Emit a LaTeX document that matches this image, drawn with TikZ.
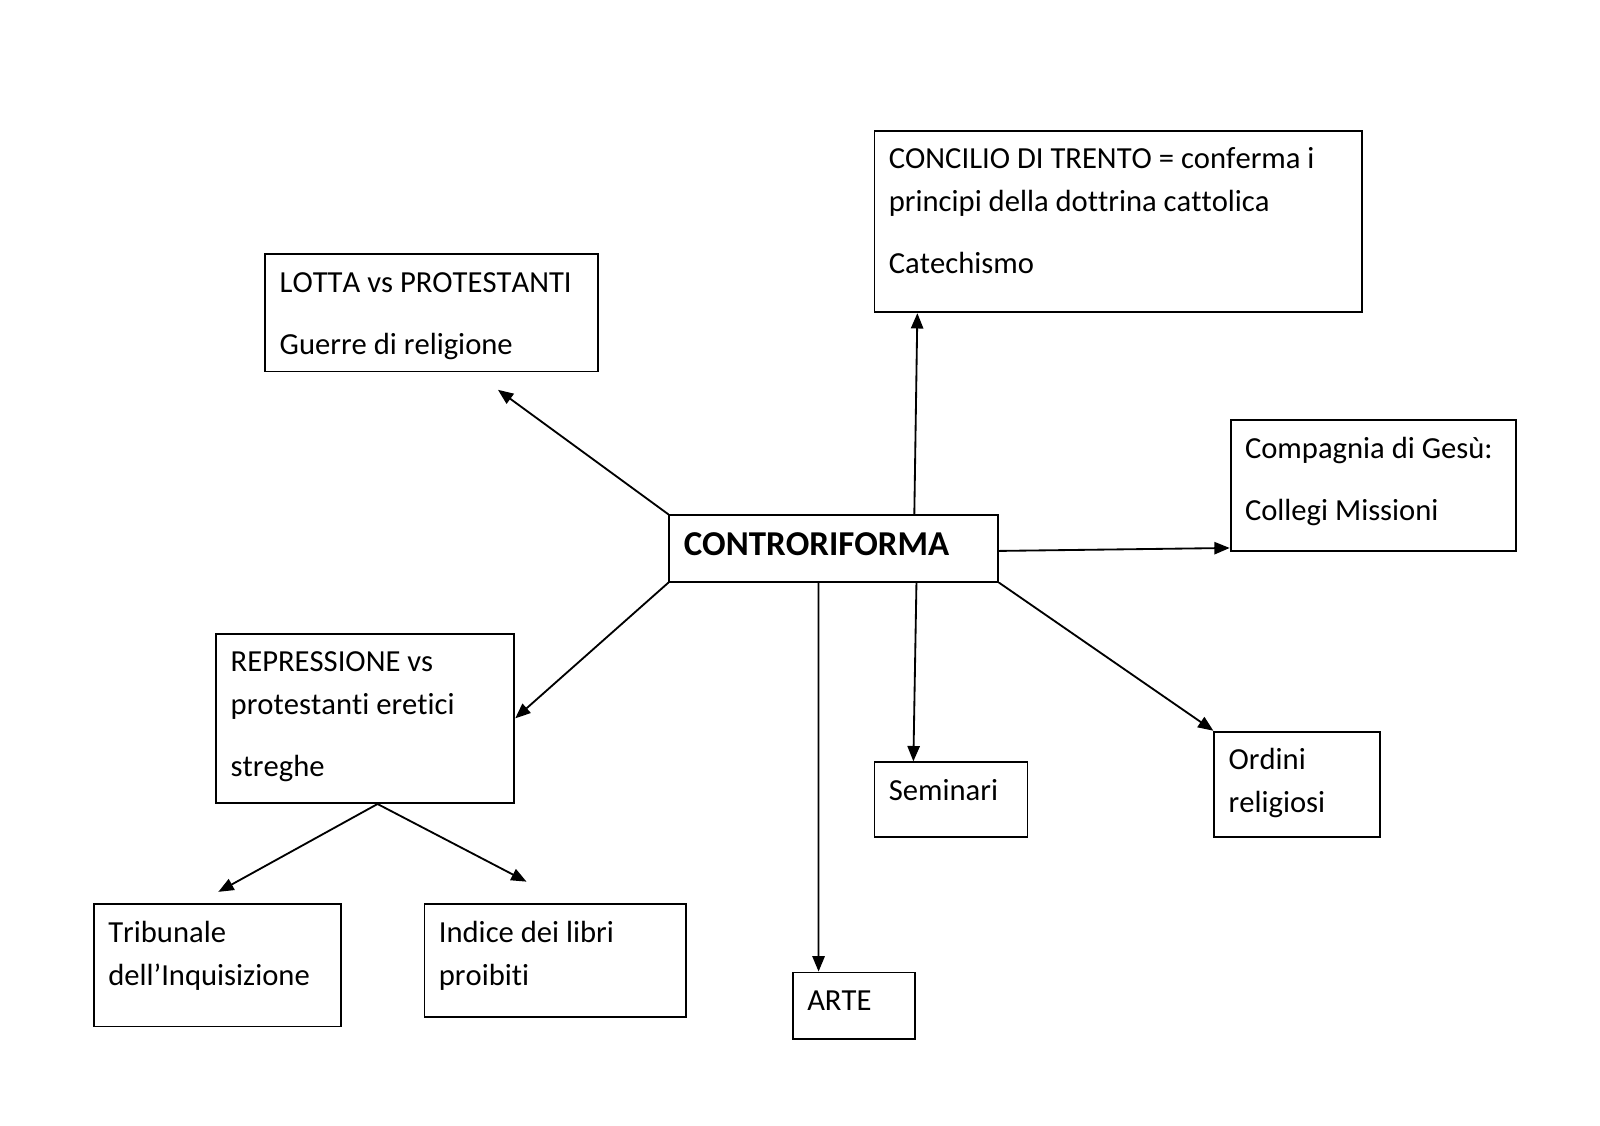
\documentclass[tikz,border=0pt]{standalone}
\usepackage{fontspec}
\setmainfont{Carlito}[Ligatures=NoCommon,Kerning=Off]
\usetikzlibrary{positioning,fit,arrows.meta}

\begin{document}
\begin{tikzpicture}[x=0.3333pt,y=-0.3333pt,line width=0.6pt,
    box/.style={draw,inner sep=0pt},
    txt/.style={inner sep=0pt,align=left,font=\fontsize{10}{14}\selectfont},
    >={Triangle[length=5pt,width=4pt]}]
    \useasboundingbox (0,0) rectangle (1568,1102.5);

    % boxes
    \node[box,fit={(656,505) (978,570)}] (contro) {};
    \node[box,fit={(260,249) (586,364)}] (lotta) {};
    \node[box,fit={(857,128) (1335,306)}] (concilio) {};
    \node[box,fit={(1206,412) (1486,540)}] (compagnia) {};
    \node[box,fit={(212,621) (504,787)}] (repressione) {};
    \node[box,fit={(857,747) (1007,820)}] (seminari) {};
    \node[box,fit={(1190,717) (1352,820)}] (ordini) {};
    \node[box,fit={(92,886) (334,1006)}] (tribunale) {};
    \node[box,fit={(416,886) (672,997)}] (indice) {};
    \node[box,fit={(777,953) (897,1018)}] (arte) {};

    % texts
    \node[txt,font=\bfseries\fontsize{11.4}{14}\selectfont,below right=5.2pt and 4.7pt of contro.north west] (controT) {\rule{0pt}{8pt}CONTRORIFORMA};
    \node[txt,below right=4.5pt and 4.7pt of lotta.north west] (lottaT) {\rule{0pt}{8pt}LOTTA vs PROTESTANTI\\[6.3pt]Guerre di religione};
    \node[txt,below right=4.5pt and 4.7pt of concilio.north west] (concilioT) {\rule{0pt}{8pt}CONCILIO DI TRENTO = conferma i\\principi della dottrina cattolica\\[6.3pt]Catechismo};
    \node[txt,below right=4.5pt and 4.7pt of compagnia.north west] (compagniaT) {\rule{0pt}{8pt}Compagnia di Gesù:\\[6.3pt]Collegi Missioni};
    \node[txt,below right=4.5pt and 4.7pt of repressione.north west] (repressioneT) {\rule{0pt}{8pt}REPRESSIONE vs\\protestanti eretici\\[6.3pt]streghe};
    \node[txt,below right=4.5pt and 4.7pt of seminari.north west] (seminariT) {\rule{0pt}{8pt}Seminari};
    \node[txt,below right=4.5pt and 4.7pt of ordini.north west] (ordiniT) {\rule{0pt}{8pt}Ordini\\religiosi};
    \node[txt,below right=4.5pt and 4.7pt of tribunale.north west] (tribunaleT) {\rule{0pt}{8pt}Tribunale\\dell’Inquisizione};
    \node[txt,below right=4.5pt and 4.7pt of indice.north west] (indiceT) {\rule{0pt}{8pt}Indice dei libri\\proibiti};
    \node[txt,below right=4.5pt and 4.7pt of arte.north west] (arteT) {\rule{0pt}{8pt}ARTE};

    % free ends
    \coordinate (lottaEnd) at (488,382);
    \coordinate (fork) at ([xshift=4pt]repressione.south);
    \coordinate (tribunaleEnd) at (214,874);
    \coordinate (indiceEnd) at (516,864);

    \draw[->] (contro.north west) -- (lottaEnd);
    \draw[->] ([xshift=80.3pt]contro.north west) -- ([xshift=14.3pt]concilio.south west);
    \draw[->] ([yshift=-0.8pt]contro.east) -- ([yshift=1.3pt]compagnia.south west);
    \draw[->] (contro.south west) -- (repressione.east);
    \draw[->] ([xshift=49pt]contro.south west) -- ([xshift=8.7pt]arte.north west);
    \draw[->] ([xshift=81pt]contro.south west) -- ([xshift=13pt]seminari.north west);
    \draw[->] (contro.south east) -- (ordini.north west);
    \draw[->] (fork) -- (tribunaleEnd);
    \draw[->] (fork) -- (indiceEnd);
\end{tikzpicture}
\end{document}
